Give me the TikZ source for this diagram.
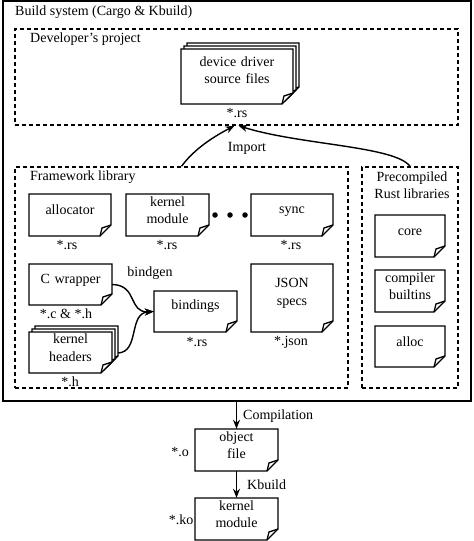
\documentclass[tikz,border=0pt]{standalone}
\usepackage{fontspec}
\setmainfont{Liberation Serif}
\usetikzlibrary{arrows.meta,fit}
\tikzset{
  docline/.style={line width=1.3pt, draw=black, fill=white, line join=miter},
  txt/.style={font=\fontsize{14}{17.5}\selectfont, inner sep=0pt, align=center},
  dbox/.style={draw=black, line width=1.4pt, dash pattern=on 4pt off 3pt, inner sep=0pt},
  frame/.style={draw=black, line width=2.4pt, inner sep=0pt},
  arr/.style={line width=1.4pt, -{Stealth[length=9pt,width=7pt]}},
  dot/.style={circle, fill=black, minimum size=5.5pt, inner sep=0pt},
}
\newcommand{\docpath}[4]{%
  \filldraw[docline] (#1,#2) -- (#3,#2) -- (#3,#4-11) -- (#3-11,#4) -- (#1,#4) -- cycle;
  \draw[docline,fill=none] (#3,#4-11) -- (#3-9,#4-8) -- (#3-11,#4);
}
\newcommand{\docnode}[6]{%
  \docpath{#2}{#3}{#4}{#5}
  \node[fit={(#2,#3) (#4,#5)}, txt] (#1) {#6};
}
\begin{document}
\begin{tikzpicture}[x=1pt,y=-1pt]
\useasboundingbox (0,0) rectangle (474,541);
% outer frame
\node[frame, fit={(3,1) (471,401)}] (outer) {};
\node[txt, anchor=west] (title) at (15,12) {Build system (Cargo \& Kbuild)};
% developer's project
\node[dbox, fit={(15,29) (458,125)}] (dev) {};
\node[txt, anchor=west] (devlbl) at (30,39) {Developer's project};
\docpath{187}{43}{299}{98}
\docpath{184}{46}{296}{101}
\docnode{drv}{181}{49}{293}{104}{device driver\\source files\vphantom{p}}
\node[txt] (drvext) at (237,113) {*.rs};
% framework library
\node[dbox, fit={(15,167) (348,388)}] (fw) {};
\node[txt, anchor=west] (fwlbl) at (30,177) {Framework library};
\docnode{alloc}{29}{194}{111}{236}{allocator}
\node[txt] (allocext) at (67,245) {*.rs};
\docnode{kmod}{126}{194}{209}{236}{kernel\\module}
\node[txt] (kmodext) at (167,245) {*.rs};
\node[dot] (d1) at (215,215) {};
\node[dot] (d2) at (230,215) {};
\node[dot] (d3) at (245,215) {};
\docnode{sync}{251}{194}{333}{236}{sync}
\node[txt] (syncext) at (291,245) {*.rs};
\docnode{cwrap}{29}{264}{112}{305}{C wrapper}
\node[txt] (cwrapext) at (66,314) {*.c \& *.h};
\docpath{35}{326}{118}{367}
\docpath{32}{329}{115}{370}
\docnode{kh}{29}{332}{112}{373}{kernel\\headers}
\node[txt] (khext) at (70,382) {*.h};
\docnode{bind}{154}{291}{237}{332}{bindings}
\node[txt] (bindext) at (197,342) {*.rs};
\docnode{json}{251}{264}{333}{332}{JSON\\specs}
\node[txt] (jsonext) at (291,342) {*.json};
\node[txt] (bindgen) at (150,273) {bindgen};
\draw[arr] (cwrap.east) .. controls (138,285) and (128,313) .. (bind.west);
\draw[arr] (118,353) .. controls (140,352) and (128,313) .. (bind.west);
% precompiled
\node[dbox, fit={(362,167) (458,388)}] (pre) {};
\node[txt] (prelbl) at (412,185) {Precompiled\\Rust libraries};
\docnode{core}{375}{215}{445}{257}{core}
\docnode{cb}{375}{270}{445}{312}{compiler\\builtins}
\docnode{alc}{375}{326}{445}{367}{alloc}
% import arrows
\draw[arr] (fw.north) .. controls (195,148) and (215,136) .. ([xshift=-2pt]dev.south);
\draw[arr] (pre.north) .. controls (395,146) and (300,145) .. ([xshift=2pt]dev.south);
\node[txt] (import) at (247,148) {Import};
% bottom
\docnode{obj}{195}{429}{278}{471}{object\\file}
\node[txt] (objext) at (180,452) {*.o};
\docnode{ko}{195}{498}{278}{540}{kernel\\module}
\node[txt] (koext) at (181,520) {*.ko};
\draw[arr] (obj.north |- outer.south) -- (obj.north);
\node[txt, anchor=west] (comp) at (243,416) {Compilation};
\draw[arr] (obj.south) -- (ko.north);
\node[txt, anchor=west] (kb) at (247,485) {Kbuild};
\end{tikzpicture}
\end{document}
